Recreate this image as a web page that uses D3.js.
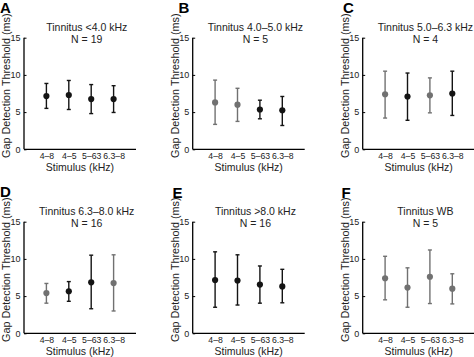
<!DOCTYPE html>
<html>
<head>
<meta charset="utf-8">
<script src="https://cdn.jsdelivr.net/npm/d3@7"></script>
<style>
  html, body { margin: 0; padding: 0; background: #fff; }
  svg { display: block; font-family: "Liberation Sans", Arial, sans-serif; }
</style>
</head>
<body>
<svg id="chart" width="474" height="357"></svg>
<script>
// ---- data ----
const categories = ["4–8", "4–5", "5–63", "6.3–8"];
const yTicks = [0, 5, 10, 15];
const panelLetters = ["A", "B", "C", "D", "E", "F"];
const panelTitles = ["Tinnitus <4.0 kHz", "Tinnitus 4.0–5.0 kHz", "Tinnitus 5.0–6.3 kHz",
                     "Tinnitus 6.3–8.0 kHz", "Tinnitus >8.0 kHz", "Tinnitus WB"];
const panelN = [19, 5, 4, 16, 16, 5];
const means = [
  [7.15, 7.3, 6.75, 6.75],
  [6.3, 6.0, 5.35, 5.25],
  [7.4, 7.1, 7.25, 7.5],
  [5.4, 5.65, 6.85, 6.75],
  [7.15, 7.1, 6.55, 6.3],
  [7.4, 6.15, 7.6, 6.0]
];
const upper = [
  [8.85, 9.25, 8.7, 8.55],
  [9.3, 8.2, 6.6, 7.1],
  [10.5, 10.25, 9.6, 10.5],
  [6.7, 6.95, 10.5, 10.55],
  [10.95, 10.55, 9.05, 8.6],
  [10.35, 8.8, 11.2, 8.0]
];
const lower = [
  [5.5, 5.35, 4.8, 4.95],
  [3.35, 3.75, 4.1, 3.2],
  [4.2, 3.9, 4.9, 4.55],
  [4.05, 4.3, 3.3, 3.0],
  [3.5, 3.8, 4.05, 4.1],
  [4.5, 3.5, 4.0, 3.95]
];
// true = black, false = gray
const dark = [
  [true, true, true, true],
  [false, false, true, true],
  [false, true, false, true],
  [false, true, true, false],
  [true, true, true, true],
  [false, false, false, false]
];

// ---- layout ----
const colX = [24, 192.7, 362.7];
const rowY = [37.7, 221.7];
const plotW = 112, plotH = 111.6;
const letterPos = [[0, 12.5], [178.5, 12.5], [343, 12.5], [0, 197], [172.5, 198], [341.5, 198]];
const colorDark = "#141414", colorGray = "#717171";

const svg = d3.select("#chart");

panelLetters.forEach((letter, i) => {
  const x0 = colX[i % 3], y0 = rowY[Math.floor(i / 3)];
  const xs = d3.scaleLinear().domain([0, 5]).range([0, plotW]);
  const ys = d3.scaleLinear().domain([0, 15]).range([plotH, 0]);
  const g = svg.append("g").attr("transform", `translate(${x0},${y0})`);

  // y axis
  const yAxis = d3.axisLeft(ys).tickValues(yTicks).tickSize(-2.5).tickPadding(3.5);
  const ya = g.append("g").call(yAxis);
  ya.select(".domain").attr("d", `M0,0V${plotH}`).attr("stroke", "#000").attr("stroke-width", 1.3);
  ya.selectAll(".tick line").attr("stroke", "#000").attr("stroke-width", 1);
  ya.selectAll(".tick text").attr("font-size", 9).attr("fill", "#222")
    .attr("font-family", "Liberation Sans, Arial, sans-serif");

  // x axis
  const xAxis = d3.axisBottom(xs).tickValues([1, 2, 3, 4])
    .tickFormat(d => categories[d - 1]).tickSize(0).tickPadding(4);
  const xa = g.append("g").attr("transform", `translate(0,${plotH})`).call(xAxis);
  xa.select(".domain").attr("d", `M0,0H${plotW}`).attr("stroke", "#000").attr("stroke-width", 1.3);
  xa.selectAll(".tick text").attr("font-size", 8.7).attr("fill", "#222")
    .attr("font-family", "Liberation Sans, Arial, sans-serif");

  // x label
  g.append("text").attr("x", xs(2.5)).attr("y", plotH + 21.5)
    .attr("text-anchor", "middle").attr("font-size", 10.5).attr("fill", "#222")
    .text("Stimulus (kHz)");

  // y label
  g.append("text")
    .attr("transform", `translate(-17.5,${48}) rotate(-90)`)
    .attr("text-anchor", "middle").attr("dy", "0.35em")
    .attr("font-size", 10.8).attr("fill", "#222")
    .text("Gap Detection Threshold (ms)");

  // title
  g.append("text").attr("x", xs(2.8)).attr("y", -6.5)
    .attr("text-anchor", "middle").attr("font-size", 10.5).attr("fill", "#222")
    .text(panelTitles[i]);
  g.append("text").attr("x", xs(2.8)).attr("y", 5.5)
    .attr("text-anchor", "middle").attr("font-size", 10.5).attr("fill", "#222")
    .text("N = " + panelN[i]);

  // panel letter
  svg.append("text").attr("x", letterPos[i][0]).attr("y", letterPos[i][1])
    .attr("font-size", 15).attr("font-weight", "bold").attr("fill", "#000")
    .text(letter);

  // error bars and points
  const pts = categories.map((c, j) => ({
    x: j + 1, m: means[i][j], hi: upper[i][j], lo: lower[i][j],
    col: dark[i][j] ? colorDark : colorGray
  }));
  const pg = g.append("g");
  pg.selectAll("line.bar").data(pts).join("line").attr("class", "bar")
    .attr("x1", d => xs(d.x)).attr("x2", d => xs(d.x))
    .attr("y1", d => ys(d.hi)).attr("y2", d => ys(d.lo))
    .attr("stroke", d => d.col).attr("stroke-width", 1.4);
  ["hi", "lo"].forEach(k => {
    pg.selectAll("line.cap" + k).data(pts).join("line").attr("class", "cap" + k)
      .attr("x1", d => xs(d.x) - 2).attr("x2", d => xs(d.x) + 2)
      .attr("y1", d => ys(d[k])).attr("y2", d => ys(d[k]))
      .attr("stroke", d => d.col).attr("stroke-width", 1.4);
  });
  pg.selectAll("circle").data(pts).join("circle")
    .attr("cx", d => xs(d.x)).attr("cy", d => ys(d.m)).attr("r", 3.1)
    .attr("fill", d => d.col);
});
</script>
</body>
</html>
